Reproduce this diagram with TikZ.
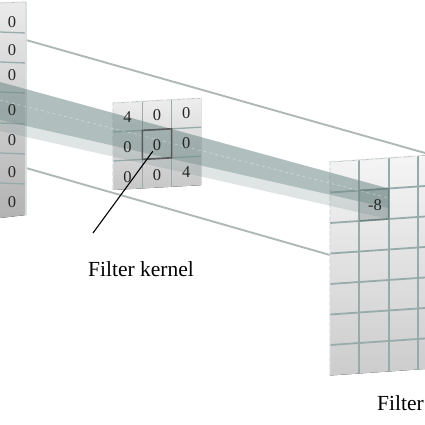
\documentclass[tikz,border=0pt]{standalone}
\usepackage{fontspec}
\setmainfont{Liberation Serif}
\definecolor{framegray}{HTML}{AEB8B7}
\definecolor{gridteal}{HTML}{97ABAA}
\definecolor{beamcol}{HTML}{6F8A87}
\definecolor{edgelight}{HTML}{D9DEDE}
\definecolor{celldark}{HTML}{667776}
\begin{document}
\begin{tikzpicture}[x=1pt,y=-1pt,
  frust/.style={draw=framegray,line width=1.9pt},
  gridln/.style={draw=gridteal,line width=1.8pt},
  edgeln/.style={draw=edgelight,line width=1.4pt,dashed,dash pattern=on 5pt off 2pt},
  digit/.style={font=\fontsize{16.5}{19}\selectfont,inner sep=0pt,text=black!85},
  lbl/.style={font=\fontsize{21.5}{25}\selectfont,inner sep=0pt}]
\useasboundingbox (0,0) rectangle (425,425);
\begin{scope}
\clip (0,0) rectangle (425,425);
% frustum lines
\coordinate (fa) at (26,40);
\coordinate (fb) at (425,153);
\coordinate (fc) at (26,168);
\coordinate (fd) at (330,255);
\draw[frust] (fa) -- (fb);
\draw[frust] (fc) -- (fd);
% output panel
\fill[top color=white!96!black,bottom color=black!20] (330,162) -- (425,155.5) -- (425,369) -- (330,375.5) -- cycle;
\foreach \k in {1,...,6}{
  \draw[gridln] (330,{162+30.5*\k}) -- (425,{162+30.5*\k-6.5});
}
\draw[gridln] (359.3,160) -- (359.3,373.5);
\draw[gridln] (388.6,158) -- (388.6,371.5);
\draw[gridln] (418,156) -- (418,369.5);
\draw[edgeln] (330,375.5) -- (330,162) -- (418,156);
% -8 cell
\fill[celldark,opacity=0.35] (359.3,190.5) -- (388.6,188.5) -- (388.6,219) -- (359.3,221) -- cycle;
\draw[celldark,line width=1.3pt,opacity=0.8] (359.3,190.5) -- (388.6,188.5) -- (388.6,219) -- (359.3,221);
% left column
\fill[top color=black!8,bottom color=black!30] (0,3) -- (26,2) -- (26,215) -- (0,218) -- cycle;
\foreach \y in {32,62,92,123,153,183}{
  \draw[gridln,line width=1.3pt] (0,\y) -- (26,\y+1);
}
\draw[edgeln] (0,3) -- (26,2);
\draw[draw=edgelight,line width=1.2pt] (26,2) -- (26,215);
% kernel
\fill[top color=black!7,bottom color=black!22] (113,103) -- (201,98.2) -- (201,185.2) -- (113,190) -- cycle;
\draw[gridln,line width=1.3pt] (113,132) -- (201,127.2);
\draw[gridln,line width=1.3pt] (113,161) -- (201,156.2);
\draw[gridln,line width=1.3pt] (142.3,101.4) -- (142.3,188.4);
\draw[gridln,line width=1.3pt] (171.6,99.8) -- (171.6,186.8);
\draw[edgeln] (113,190) -- (113,103) -- (201,98.2);
% beam
\fill[beamcol,opacity=0.22] (0,82) -- (388.6,188.5) -- (388.6,219) -- (0,131) -- cycle;
\fill[beamcol,opacity=0.42] (0,82) -- (388.6,188.5) -- (388.6,208) -- (0,120) -- cycle;
\draw[white,opacity=0.35,dashed,line width=0.8pt] (0,100) -- (388.6,198);
% kernel center cell border
\draw[black!65,line width=1.6pt] (142.3,130.4) -- (171.6,128.8) -- (171.6,157.8) -- (142.3,159.4) -- cycle;
\end{scope}
% left column digits
\node[digit] (l1) at (12,22) {0};
\node[digit] (l2) at (12,50) {0};
\node[digit] (l3) at (12,75) {0};
\node[digit] (l4) at (12,110) {0};
\node[digit] (l5) at (12,140) {0};
\node[digit] (l6) at (12,172) {0};
\node[digit] (l7) at (12,202) {0};
% kernel digits
\node[digit] (k11) at (127.6,117) {4};
\node[digit] (k12) at (157,115.5) {0};
\node[digit] (k13) at (186.2,113.5) {0};
\node[digit] (k21) at (127.6,147) {0};
\node[digit] (kc) at (157,145.5) {0};
\node[digit] (k23) at (186.2,143) {0};
\node[digit] (k31) at (127.6,177) {0};
\node[digit] (k32) at (157,175.5) {0};
\node[digit] (k33) at (186.2,172) {4};
% output value
\node[digit] (out) at (375,205) {-8};
% labels
\node[lbl,anchor=base west] (kl) at (88,276) {Filter kernel};
\node[lbl,anchor=base west] (ol) at (377,410) {Filter};
\coordinate (lt) at (93,233);
\draw[black,line width=1.1pt] (lt) -- (kc);
\end{tikzpicture}
\end{document}
